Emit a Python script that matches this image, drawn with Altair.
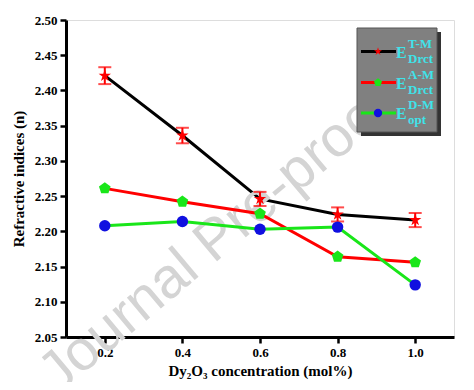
import altair as alt
import pandas as pd

# ---- data ----
conc = [0.2, 0.4, 0.6, 0.8, 1.0]
n_tm = [2.421, 2.336, 2.246, 2.224, 2.216]       # E_Drct^(T-M)
n_tm_err = [0.012, 0.011, 0.010, 0.010, 0.010]
n_am = [2.261, 2.242, 2.225, 2.164, 2.156]       # E_Drct^(A-M)
n_dm = [2.208, 2.214, 2.203, 2.206, 2.124]       # E_opt^(D-M)
y_ticks = [2.05, 2.10, 2.15, 2.20, 2.25, 2.30, 2.35, 2.40, 2.45, 2.50]
x_ticks = [0.2, 0.4, 0.6, 0.8, 1.0]

df = pd.DataFrame({"x": conc, "tm": n_tm, "am": n_am, "dm": n_dm,
                   "lo": [a - e for a, e in zip(n_tm, n_tm_err)],
                   "hi": [a + e for a, e in zip(n_tm, n_tm_err)]})

SERIF = "Liberation Serif"
W, H = 388, 317

xs = alt.Scale(domain=[0.1, 1.1], nice=False, zero=False)
ys = alt.Scale(domain=[2.05, 2.50], nice=False, zero=False)

common_axis = dict(grid=False, tickSize=6, tickWidth=2.5, domainWidth=3, domainColor="black",
                   tickColor="black", labelFont=SERIF, labelFontWeight="bold", labelFontSize=13,
                   labelColor="black", titleFont=SERIF, titleFontWeight="bold", titleFontSize=15,
                   titleColor="black", labelPadding=3, labelOverlap=False)
xax = alt.Axis(values=x_ticks, format=".1f", title="Dy₂O₃ concentration (mol%)",
               orient="bottom", titlePadding=4, **common_axis)
yax = alt.Axis(values=y_ticks, format=".2f", title="Refractive indices (n)",
               orient="left", titlePadding=8, **common_axis)


def XE(field="x"):
    return alt.X(f"{field}:Q", scale=xs, axis=xax)


def YE(field):
    return alt.Y(f"{field}:Q", scale=ys, axis=yax)


base = alt.Chart(df)

STAR = ("M0,-1L0.225,-0.309L0.951,-0.309L0.363,0.118L0.588,0.809"
        "L0,0.382L-0.588,0.809L-0.363,0.118L-0.951,-0.309L-0.225,-0.309Z")
PENT = "M0,-1L0.951,-0.309L0.588,0.809L-0.588,0.809L-0.951,-0.309Z"

watermark = alt.Chart(pd.DataFrame({"t": ["Journal Pre-proof"]})).mark_text(
    font="Liberation Sans", fontSize=57, color="#d4d4d4", angle=320,
    align="center", baseline="middle", clip=False).encode(
    x=alt.value(150), y=alt.value(220), text="t:N")

line_tm = base.mark_line(color="black", strokeWidth=3).encode(x=XE(), y=YE("tm"))
line_am = base.mark_line(color="#ff0000", strokeWidth=3).encode(x=XE(), y=YE("am"))
line_dm = base.mark_line(color="#19e619", strokeWidth=3).encode(x=XE(), y=YE("dm"))

err = base.mark_rule(color="#ff0000", strokeWidth=2).encode(x=XE(), y=YE("lo"), y2="hi:Q")
cap_lo = base.mark_tick(color="#ff0000", orient="horizontal", size=13, thickness=2).encode(x=XE(), y=YE("lo"))
cap_hi = base.mark_tick(color="#ff0000", orient="horizontal", size=13, thickness=2).encode(x=XE(), y=YE("hi"))

pts_dm = base.mark_point(shape="circle", filled=True, color="#1010e0", size=130, opacity=1).encode(x=XE(), y=YE("dm"))
pts_am = base.mark_point(shape=PENT, filled=True, color="#19e619", size=150, opacity=1).encode(x=XE(), y=YE("am"))
pts_tm = base.mark_point(shape=STAR, filled=True, color="#ff0000", size=170, opacity=1).encode(x=XE(), y=YE("tm"))

# ---- custom legend (pixel positions inside the plot area) ----
one = alt.Chart(pd.DataFrame({"k": [0]}))
leg = [
    one.mark_rect(color="#333333").encode(x=alt.value(295), x2=alt.value(375),
                                          y=alt.value(12), y2=alt.value(116)),
    one.mark_rect(color="#808080", stroke="#555555", strokeWidth=1).encode(
        x=alt.value(291), x2=alt.value(371), y=alt.value(8), y2=alt.value(112)),
]
rows = [("black", "#ff0000", STAR, "T-M", "Drct", 31.5),
        ("#ff0000", "#19e619", PENT, "A-M", "Drct", 62.5),
        ("#19e619", "#1010e0", "circle", "D-M", "opt", 93)]
CYAN = "#3fe3ea"
for lc, mc, shp, sup, sub, ry in rows:
    leg.append(one.mark_rule(color=lc, strokeWidth=3).encode(
        x=alt.value(295), x2=alt.value(330), y=alt.value(ry)))
    leg.append(one.mark_point(shape=shp, filled=True, color=mc, size=70, opacity=1).encode(
        x=alt.value(312), y=alt.value(ry)))
    leg.append(one.mark_text(text="E", font=SERIF, fontWeight="bold", fontSize=16,
                             color=CYAN, align="left", baseline="middle").encode(
        x=alt.value(330), y=alt.value(ry + 1)))
    leg.append(one.mark_text(text=sup, font=SERIF, fontWeight="bold", fontSize=13,
                             color=CYAN, align="left", baseline="middle").encode(
        x=alt.value(342), y=alt.value(ry - 8)))
    leg.append(one.mark_text(text=sub, font=SERIF, fontWeight="bold", fontSize=13,
                             color=CYAN, align="left", baseline="middle").encode(
        x=alt.value(342), y=alt.value(ry + 7)))

chart = alt.layer(
    line_tm, watermark, line_am, line_dm, err, cap_lo, cap_hi, pts_dm, pts_am, pts_tm, *leg
).properties(
    width=W, height=H,
    autosize=alt.AutoSizeParams(type="none"),
    padding={"left": 58, "top": 12, "right": 12, "bottom": 45},
).configure_view(stroke="black", strokeWidth=3).configure(background="white")

chart.save("out.html", embed_options={"renderer": "svg", "actions": False})
